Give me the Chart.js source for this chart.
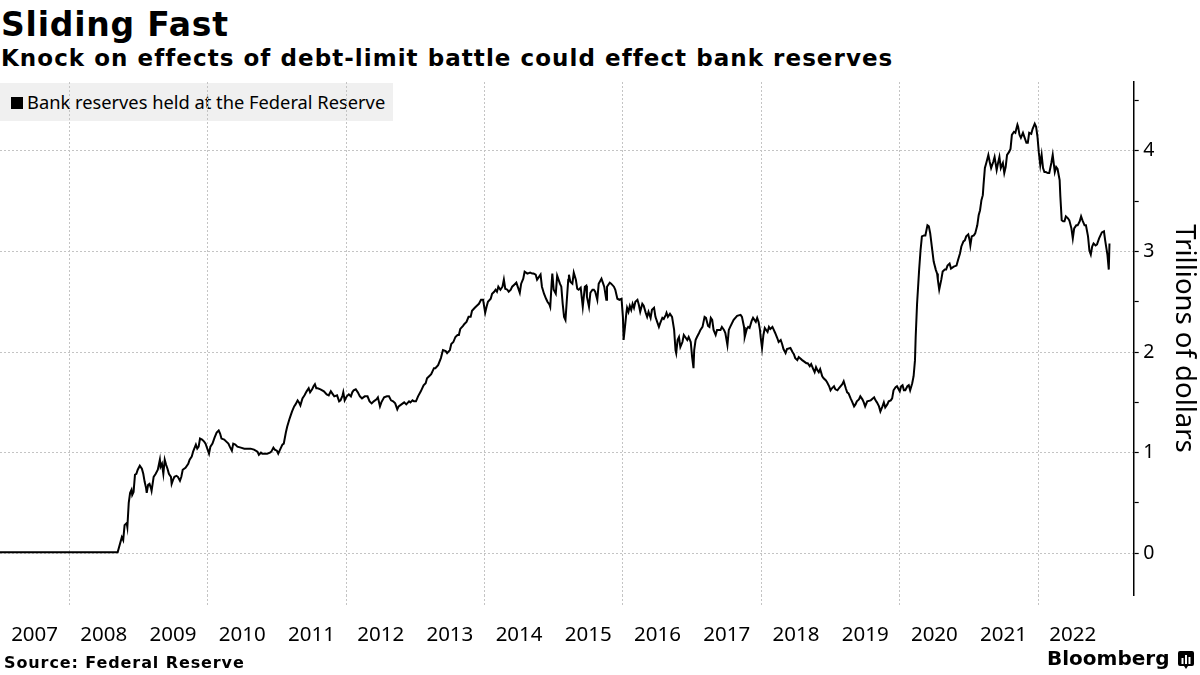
<!DOCTYPE html>
<html lang="en">
<head>
<meta charset="UTF-8">
<title>Sliding Fast</title>
<style>
  html, body {margin:0; padding:0; background:#fff;}
  body {width:1200px; height:675px; position:relative; overflow:hidden; font-family:'Noto Sans',sans-serif; color:#000;}
  .headline {position:absolute; left:1px; top:8px; margin:0; font:bold 33px/33px 'DejaVu Sans',sans-serif; letter-spacing:0.8px; white-space:nowrap;}
  .subhead {position:absolute; left:1px; top:47px; margin:0; font:bold 23px/23px 'DejaVu Sans',sans-serif; letter-spacing:1.05px; white-space:nowrap;}
  .legend-box {position:absolute; left:0; top:83px; width:393px; height:38px; background:#f0f0f0; white-space:nowrap;}
  .legend-box i {position:absolute; left:11px; top:14px; width:12px; height:12px; background:#000;}
  .legend-box span {position:absolute; left:27px; top:0; font-size:18.3px; line-height:38px;}
  #reserveChart {position:absolute; left:0; top:0;}
  .source {position:absolute; left:4px; top:655px; font:bold 16px/16px 'DejaVu Sans',sans-serif; letter-spacing:0.9px; white-space:nowrap;}
  .brand {position:absolute; left:1047px; top:648px; font:bold 20px/20px 'DejaVu Sans',sans-serif; white-space:nowrap;}
  .brand-icon {position:absolute; left:1178px; top:651px;}
</style>
</head>
<body>
<h1 class="headline">Sliding Fast</h1>
<h2 class="subhead">Knock on effects of debt-limit battle could effect bank reserves</h2>

<!-- legend sits under the canvas so the dotted grid shows through it -->
<div class="legend-box" id="legendBox"></div>
<canvas id="reserveChart" width="1200" height="675"></canvas>

<div class="source">Source: Federal Reserve</div>
<div class="brand">Bloomberg</div>
<svg class="brand-icon" width="16" height="20" viewBox="0 0 16 20">
  <path d="M2 0h12a2 2 0 0 1 2 2v11a2 2 0 0 1-2 2h-4l-2 3-2-3H2a2 2 0 0 1-2-2V2a2 2 0 0 1 2-2z" fill="#000"/>
  <rect x="3.5" y="7" width="2" height="6" fill="#fff"/>
  <rect x="7" y="4" width="2" height="9" fill="#fff"/>
  <rect x="10.5" y="6" width="2" height="7" fill="#fff"/>
</svg>

<script src="https://cdn.jsdelivr.net/npm/chart.js"></script>
<script>
// weekly readings, x as decimal year
const weekPos = [
  2007.00, 2007.20, 2007.40, 2007.60, 2007.80, 2008.00, 2008.20, 2008.40, 2008.60, 2008.70,
  2008.76, 2008.78, 2008.80, 2008.83, 2008.84, 2008.86, 2008.88, 2008.90, 2008.91, 2008.93,
  2008.95, 2008.97, 2008.99, 2009.02, 2009.05, 2009.07, 2009.09, 2009.11, 2009.12, 2009.14,
  2009.16, 2009.18, 2009.19, 2009.22, 2009.25, 2009.28, 2009.31, 2009.32, 2009.34, 2009.36,
  2009.38, 2009.40, 2009.42, 2009.44, 2009.47, 2009.48, 2009.50, 2009.52, 2009.55, 2009.57,
  2009.60, 2009.62, 2009.64, 2009.68, 2009.72, 2009.74, 2009.77, 2009.79, 2009.83, 2009.85,
  2009.87, 2009.89, 2009.92, 2009.95, 2009.97, 2010.00, 2010.02, 2010.04, 2010.07, 2010.10,
  2010.13, 2010.16, 2010.18, 2010.20, 2010.24, 2010.27, 2010.30, 2010.32, 2010.35, 2010.37,
  2010.40, 2010.43, 2010.48, 2010.53, 2010.57, 2010.62, 2010.67, 2010.72, 2010.74, 2010.77,
  2010.79, 2010.82, 2010.86, 2010.90, 2010.92, 2010.95, 2010.97, 2011.00, 2011.02, 2011.04,
  2011.08, 2011.10, 2011.13, 2011.15, 2011.18, 2011.20, 2011.22, 2011.25, 2011.27, 2011.30,
  2011.32, 2011.34, 2011.37, 2011.40, 2011.43, 2011.46, 2011.48, 2011.51, 2011.53, 2011.55,
  2011.57, 2011.59, 2011.63, 2011.68, 2011.72, 2011.75, 2011.78, 2011.81, 2011.83, 2011.87,
  2011.90, 2011.92, 2011.95, 2011.96, 2011.98, 2012.01, 2012.04, 2012.07, 2012.09, 2012.11,
  2012.14, 2012.17, 2012.20, 2012.23, 2012.27, 2012.31, 2012.34, 2012.37, 2012.40, 2012.44,
  2012.46, 2012.49, 2012.51, 2012.55, 2012.59, 2012.62, 2012.65, 2012.68, 2012.71, 2012.74,
  2012.76, 2012.80, 2012.84, 2012.87, 2012.91, 2012.93, 2012.96, 2012.98, 2013.01, 2013.04,
  2013.08, 2013.12, 2013.15, 2013.17, 2013.20, 2013.23, 2013.27, 2013.29, 2013.33, 2013.37,
  2013.40, 2013.44, 2013.46, 2013.50, 2013.52, 2013.55, 2013.58, 2013.61, 2013.63, 2013.65,
  2013.69, 2013.71, 2013.74, 2013.77, 2013.80, 2013.82, 2013.86, 2013.89, 2013.92, 2013.95,
  2013.98, 2014.01, 2014.03, 2014.05, 2014.09, 2014.11, 2014.14, 2014.16, 2014.18, 2014.20,
  2014.23, 2014.26, 2014.28, 2014.30, 2014.33, 2014.35, 2014.38, 2014.40, 2014.43, 2014.46,
  2014.48, 2014.51, 2014.53, 2014.56, 2014.58, 2014.62, 2014.66, 2014.69, 2014.71, 2014.74,
  2014.76, 2014.79, 2014.81, 2014.83, 2014.86, 2014.89, 2014.91, 2014.94, 2014.95, 2014.97,
  2014.98, 2015.00, 2015.03, 2015.05, 2015.07, 2015.09, 2015.11, 2015.13, 2015.15, 2015.17,
  2015.19, 2015.21, 2015.22, 2015.24, 2015.27, 2015.29, 2015.32, 2015.34, 2015.36, 2015.39,
  2015.42, 2015.45, 2015.47, 2015.48, 2015.51, 2015.53, 2015.56, 2015.58, 2015.60, 2015.63,
  2015.65, 2015.69, 2015.71, 2015.73, 2015.76, 2015.77, 2015.81, 2015.83, 2015.87, 2015.89,
  2015.92, 2015.95, 2015.98, 2016.00, 2016.01, 2016.03, 2016.05, 2016.06, 2016.08, 2016.10,
  2016.12, 2016.14, 2016.16, 2016.18, 2016.21, 2016.23, 2016.25, 2016.28, 2016.30, 2016.33,
  2016.35, 2016.37, 2016.40, 2016.42, 2016.45, 2016.47, 2016.50, 2016.52, 2016.54, 2016.57,
  2016.59, 2016.62, 2016.63, 2016.65, 2016.68, 2016.71, 2016.74, 2016.76, 2016.77, 2016.79,
  2016.81, 2016.83, 2016.86, 2016.88, 2016.90, 2016.93, 2016.95, 2016.98, 2017.00, 2017.02,
  2017.03, 2017.05, 2017.07, 2017.10, 2017.12, 2017.15, 2017.18, 2017.20, 2017.23, 2017.25,
  2017.27, 2017.29, 2017.31, 2017.34, 2017.36, 2017.41, 2017.43, 2017.46, 2017.48, 2017.51,
  2017.53, 2017.55, 2017.60, 2017.65, 2017.70, 2017.72, 2017.75, 2017.76, 2017.79, 2017.81,
  2017.83, 2017.86, 2017.88, 2017.92, 2017.94, 2017.96, 2017.98, 2017.99, 2018.01, 2018.03,
  2018.05, 2018.07, 2018.09, 2018.11, 2018.13, 2018.16, 2018.18, 2018.20, 2018.23, 2018.25,
  2018.28, 2018.30, 2018.32, 2018.35, 2018.37, 2018.42, 2018.45, 2018.47, 2018.49, 2018.52,
  2018.54, 2018.59, 2018.61, 2018.65, 2018.67, 2018.70, 2018.72, 2018.75, 2018.77, 2018.79,
  2018.81, 2018.83, 2018.85, 2018.88, 2018.90, 2018.93, 2018.95, 2018.98, 2019.00, 2019.02,
  2019.05, 2019.07, 2019.10, 2019.12, 2019.17, 2019.19, 2019.22, 2019.24, 2019.26, 2019.29,
  2019.31, 2019.34, 2019.36, 2019.38, 2019.41, 2019.43, 2019.46, 2019.48, 2019.50, 2019.53,
  2019.58, 2019.63, 2019.65, 2019.67, 2019.70, 2019.72, 2019.75, 2019.77, 2019.79, 2019.82,
  2019.84, 2019.87, 2019.89, 2019.91, 2019.94, 2019.96, 2020.00, 2020.02, 2020.04, 2020.06,
  2020.08, 2020.11, 2020.13, 2020.15, 2020.18, 2020.20, 2020.22, 2020.23, 2020.25, 2020.28,
  2020.30, 2020.32, 2020.35, 2020.37, 2020.40, 2020.42, 2020.44, 2020.47, 2020.49, 2020.52,
  2020.54, 2020.55, 2020.57, 2020.60, 2020.62, 2020.65, 2020.67, 2020.69, 2020.72, 2020.74,
  2020.78, 2020.82, 2020.84, 2020.87, 2020.89, 2020.92, 2020.94, 2020.96, 2020.99, 2021.01,
  2021.02, 2021.04, 2021.07, 2021.09, 2021.12, 2021.14, 2021.16, 2021.18, 2021.20, 2021.21,
  2021.23, 2021.25, 2021.28, 2021.30, 2021.32, 2021.35, 2021.37, 2021.40, 2021.42, 2021.44,
  2021.46, 2021.49, 2021.51, 2021.53, 2021.55, 2021.58, 2021.60, 2021.62, 2021.65, 2021.67,
  2021.70, 2021.71, 2021.73, 2021.75, 2021.78, 2021.80, 2021.83, 2021.85, 2021.87, 2021.90,
  2021.92, 2021.95, 2021.97, 2021.99, 2022.01, 2022.03, 2022.05, 2022.07, 2022.09, 2022.11,
  2022.14, 2022.16, 2022.19, 2022.21, 2022.24, 2022.26, 2022.28, 2022.31, 2022.32, 2022.34,
  2022.36, 2022.38, 2022.40, 2022.43, 2022.45, 2022.48, 2022.50, 2022.52, 2022.55, 2022.57,
  2022.60, 2022.62, 2022.64, 2022.67, 2022.69, 2022.72, 2022.74, 2022.76, 2022.78, 2022.80,
  2022.83, 2022.85, 2022.88, 2022.90, 2022.92, 2022.95, 2022.97, 2023.00, 2023.02, 2023.03
];

// bank reserves, trillions of dollars
const reservesTn = [
  0.01, 0.01, 0.01, 0.01, 0.01, 0.01, 0.01, 0.01, 0.01, 0.01,
  0.16, 0.13, 0.28, 0.30, 0.26, 0.50, 0.60, 0.63, 0.58, 0.61,
  0.78, 0.79, 0.83, 0.87, 0.84, 0.79, 0.71, 0.65, 0.60, 0.68,
  0.69, 0.65, 0.62, 0.76, 0.79, 0.83, 0.93, 0.86, 0.89, 0.79,
  0.93, 0.88, 0.84, 0.79, 0.76, 0.69, 0.73, 0.76, 0.77, 0.76,
  0.72, 0.76, 0.83, 0.85, 0.89, 0.93, 0.96, 1.01, 1.08, 1.04,
  1.06, 1.14, 1.13, 1.11, 1.09, 1.03, 0.99, 1.06, 1.09, 1.15,
  1.20, 1.22, 1.19, 1.14, 1.13, 1.11, 1.09, 1.06, 1.02, 1.09,
  1.08, 1.06, 1.05, 1.04, 1.04, 1.04, 1.03, 1.01, 0.98, 1.00,
  0.99, 0.99, 0.99, 1.00, 1.01, 1.05, 1.03, 1.02, 0.99, 1.02,
  1.08, 1.09, 1.20, 1.26, 1.33, 1.37, 1.41, 1.46, 1.48, 1.52,
  1.50, 1.47, 1.54, 1.57, 1.61, 1.64, 1.60, 1.63, 1.66, 1.68,
  1.64, 1.64, 1.63, 1.61, 1.58, 1.57, 1.61, 1.58, 1.56, 1.57,
  1.51, 1.52, 1.57, 1.60, 1.52, 1.56, 1.58, 1.56, 1.60, 1.62,
  1.63, 1.60, 1.56, 1.54, 1.56, 1.56, 1.51, 1.49, 1.51, 1.53,
  1.55, 1.46, 1.50, 1.55, 1.56, 1.56, 1.52, 1.51, 1.49, 1.43,
  1.46, 1.48, 1.50, 1.48, 1.51, 1.50, 1.52, 1.51, 1.51, 1.56,
  1.61, 1.67, 1.69, 1.74, 1.76, 1.78, 1.84, 1.84, 1.87, 1.94,
  2.02, 2.01, 1.99, 2.02, 2.08, 2.10, 2.15, 2.17, 2.17, 2.23,
  2.26, 2.28, 2.30, 2.35, 2.35, 2.41, 2.44, 2.46, 2.48, 2.52,
  2.52, 2.39, 2.45, 2.50, 2.53, 2.58, 2.60, 2.62, 2.60, 2.65,
  2.62, 2.65, 2.72, 2.63, 2.62, 2.60, 2.62, 2.65, 2.67, 2.69,
  2.65, 2.59, 2.68, 2.73, 2.80, 2.78, 2.79, 2.78, 2.78, 2.77,
  2.72, 2.75, 2.77, 2.65, 2.58, 2.53, 2.50, 2.47, 2.45, 2.68,
  2.78, 2.62, 2.58, 2.76, 2.72, 2.68, 2.65, 2.48, 2.35, 2.32,
  2.52, 2.72, 2.77, 2.70, 2.68, 2.79, 2.72, 2.63, 2.62, 2.64,
  2.45, 2.65, 2.66, 2.55, 2.45, 2.59, 2.62, 2.62, 2.60, 2.52,
  2.68, 2.73, 2.69, 2.65, 2.52, 2.65, 2.69, 2.68, 2.65, 2.62,
  2.53, 2.52, 2.53, 2.35, 2.12, 2.25, 2.39, 2.44, 2.40, 2.46,
  2.42, 2.48, 2.44, 2.50, 2.52, 2.47, 2.40, 2.48, 2.46, 2.39,
  2.35, 2.40, 2.34, 2.42, 2.44, 2.35, 2.29, 2.25, 2.29, 2.34,
  2.33, 2.37, 2.39, 2.35, 2.38, 2.35, 2.22, 2.02, 1.99, 2.12,
  2.15, 2.05, 2.10, 2.17, 2.15, 2.12, 2.15, 2.10, 1.95, 1.84,
  2.02, 2.12, 2.15, 2.19, 2.22, 2.25, 2.35, 2.34, 2.26, 2.25,
  2.34, 2.32, 2.22, 2.17, 2.22, 2.22, 2.25, 2.22, 2.19, 2.07,
  2.22, 2.25, 2.32, 2.36, 2.37, 2.35, 2.25, 2.15, 2.23, 2.25,
  2.24, 2.31, 2.34, 2.30, 2.34, 2.30, 2.22, 2.15, 2.04, 2.17,
  2.24, 2.22, 2.20, 2.25, 2.23, 2.25, 2.22, 2.19, 2.14, 2.10,
  2.12, 2.08, 2.03, 1.99, 2.03, 2.04, 2.00, 1.98, 1.94, 1.92,
  1.95, 1.92, 1.91, 1.89, 1.89, 1.86, 1.88, 1.83, 1.80, 1.85,
  1.82, 1.80, 1.83, 1.76, 1.74, 1.72, 1.70, 1.66, 1.62, 1.64,
  1.66, 1.63, 1.62, 1.64, 1.68, 1.71, 1.64, 1.60, 1.59, 1.54,
  1.51, 1.46, 1.48, 1.51, 1.53, 1.56, 1.53, 1.50, 1.46, 1.51,
  1.52, 1.55, 1.52, 1.50, 1.46, 1.41, 1.46, 1.50, 1.45, 1.48,
  1.51, 1.52, 1.54, 1.62, 1.65, 1.66, 1.61, 1.66, 1.67, 1.62,
  1.62, 1.66, 1.67, 1.62, 1.69, 1.76, 1.92, 2.15, 2.48, 2.82,
  3.01, 3.15, 3.16, 3.16, 3.26, 3.25, 3.18, 3.01, 2.90, 2.82,
  2.78, 2.72, 2.62, 2.72, 2.80, 2.82, 2.82, 2.86, 2.88, 2.83,
  2.85, 2.86, 2.91, 2.98, 3.05, 3.10, 3.11, 3.15, 3.17, 3.11,
  3.06, 3.15, 3.16, 3.18, 3.26, 3.36, 3.41, 3.51, 3.56, 3.66,
  3.83, 3.88, 3.96, 3.89, 3.83, 3.89, 3.94, 3.81, 3.88, 3.94,
  3.83, 3.88, 3.78, 3.84, 3.96, 3.99, 4.02, 4.16, 4.19, 4.18,
  4.26, 4.24, 4.16, 4.13, 4.18, 4.14, 4.08, 4.08, 4.18, 4.17,
  4.22, 4.27, 4.24, 4.14, 3.98, 3.86, 3.96, 3.83, 3.79, 3.79,
  3.78, 3.78, 3.88, 3.96, 3.79, 3.84, 3.82, 3.71, 3.55, 3.31,
  3.30, 3.30, 3.35, 3.33, 3.31, 3.23, 3.13, 3.23, 3.26, 3.26,
  3.30, 3.35, 3.31, 3.26, 3.26, 3.15, 3.01, 2.97, 3.05, 3.08,
  3.06, 3.07, 3.13, 3.16, 3.19, 3.20, 3.10, 2.97, 2.82, 3.08
];

const yearLabels = ['2007','2008','2009','2010','2011','2012','2013','2014',
                    '2015','2016','2017','2018','2019','2020','2021','2022'];
const valueTicks = [0, 1, 2, 3, 4];
const seriesName = 'Bank reserves held at the Federal Reserve';
const axisTitle = 'Trillions of dollars';

const gridGray = '#c4c4c4';
// year boundaries (gridlines on even years), labels sit mid-year
const yearBounds = yearLabels.map(Number).concat(Number(yearLabels[yearLabels.length - 1]) + 1);
// half-step ticks on the right axis, labels only on whole numbers
const halfSteps = [];
valueTicks.forEach(v => { halfSteps.push(v, v + 0.5); });

Chart.defaults.font.family = "'Noto Sans', sans-serif";
Chart.defaults.color = '#000';

const chart = new Chart(document.getElementById('reserveChart'), {
  type: 'line',
  data: {
    datasets: [{
      label: seriesName,
      data: weekPos.map((x, i) => ({x: x, y: reservesTn[i]})),
      borderColor: '#000',
      borderWidth: 2,
      pointRadius: 0,
      tension: 0,
      fill: false
    }]
  },
  options: {
    responsive: false,
    animation: false,
    layout: {padding: {top: 82, left: 0, right: 0, bottom: 0}},
    plugins: {legend: {display: false}, tooltip: {enabled: false}},
    scales: {
      x: {
        type: 'linear',
        min: 2007, max: 2023.38,
        afterBuildTicks: s => { s.ticks = yearBounds.map(v => ({value: v})); },
        afterFit: s => { s.height = 80; s.paddingLeft = 0; s.paddingRight = 0; },
        border: {display: false, dash: [2, 2]},
        grid: {
          color: c => (c.tick && c.tick.value % 2 === 0) ? gridGray : 'transparent',
          tickColor: c => (c.tick && c.tick.value % 2 === 0) ? gridGray : 'transparent',
          tickLength: 10,
          tickBorderDash: [2, 2],
          lineWidth: 1
        },
        ticks: {
          autoSkip: false, maxRotation: 0, minRotation: 0,
          padding: 18, labelOffset: 34.6,
          font: {size: 20.5},
          callback: v => yearLabels[v - 2007] || ''
        }
      },
      y: {
        position: 'right',
        min: -0.415, max: 4.685,
        afterBuildTicks: s => { s.ticks = halfSteps.map(v => ({value: v})); },
        afterFit: s => { s.width = 66.3; s.paddingTop = 0; s.paddingBottom = 0; },
        border: {display: true, color: '#000', width: 1.5, dash: [2, 2]},
        grid: {
          color: c => (c.tick && Number.isInteger(c.tick.value)) ? gridGray : 'transparent',
          tickColor: '#000',
          tickLength: 5,
          tickWidth: 1.2,
          tickBorderDash: [],
          lineWidth: 1
        },
        ticks: {
          autoSkip: false, padding: 4.5,
          font: {size: 19.5},
          callback: v => Number.isInteger(v) ? String(v) : ''
        },
        title: {display: true, text: axisTitle, font: {size: 27.5}, padding: 0}
      }
    }
  }
});

// html legend from the dataset
const ds = chart.data.datasets[0];
document.getElementById('legendBox').innerHTML =
  '<i style="background:' + ds.borderColor + '"></i><span>' + ds.label + '</span>';
</script>
</body>
</html>
